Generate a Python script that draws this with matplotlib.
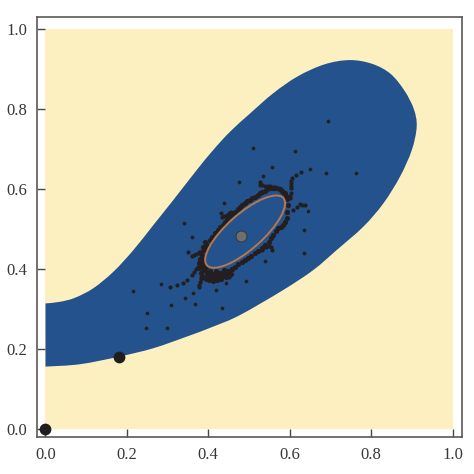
import matplotlib
matplotlib.use('Agg')
import numpy as np
import matplotlib.pyplot as plt
from matplotlib.patches import Ellipse, PathPatch, Rectangle
from matplotlib.path import Path

plt.rcParams['font.family'] = ['Liberation Serif', 'DejaVu Serif']

# outline of the blue region, lower edge first
edge_x = [0.0, 0.085, 0.181, 0.265, 0.347, 0.412, 0.478, 0.584, 0.658, 0.7155, 0.781, 0.830,
          0.871, 0.900, 0.912, 0.905, 0.882, 0.848, 0.803, 0.748, 0.686, 0.620, 0.560,
          0.5025, 0.453, 0.412, 0.3715, 0.314, 0.265, 0.216, 0.1665, 0.1175, 0.072, 0.035, 0.0]
edge_y = [0.156, 0.162, 0.181, 0.202, 0.231, 0.256, 0.285, 0.3475, 0.3975, 0.4475, 0.506, 0.564,
          0.631, 0.6975, 0.756, 0.8, 0.846, 0.888, 0.913, 0.9225, 0.912, 0.882, 0.84,
          0.789, 0.743, 0.6975, 0.6475, 0.5725, 0.51, 0.4475, 0.393, 0.352, 0.328, 0.318, 0.314]

# small points: band around the ellipse
band_x = [0.384, 0.392, 0.404, 0.416, 0.429, 0.441, 0.453, 0.466, 0.478, 0.490, 0.502, 0.515,
          0.527, 0.539, 0.552, 0.564, 0.576, 0.588, 0.594, 0.597, 0.594, 0.593, 0.584, 0.572,
          0.560, 0.548, 0.531, 0.515, 0.498, 0.482, 0.466, 0.449, 0.433, 0.416, 0.400, 0.388,
          0.395, 0.405, 0.42, 0.438, 0.39, 0.385, 0.40, 0.392, 0.398, 0.41, 0.423, 0.435, 0.447,
          0.459, 0.472, 0.484, 0.496, 0.508, 0.521, 0.533, 0.545, 0.558, 0.570, 0.582, 0.591,
          0.588, 0.578, 0.566, 0.554, 0.540, 0.523, 0.506, 0.490, 0.474, 0.458, 0.441, 0.425,
          0.379, 0.383, 0.389, 0.396, 0.405, 0.414, 0.425, 0.436, 0.448, 0.380, 0.386, 0.393,
          0.378, 0.412, 0.426, 0.442, 0.458, 0.376, 0.381, 0.387, 0.394, 0.402, 0.411, 0.421,
          0.432, 0.444, 0.456, 0.384, 0.391]
band_y = [0.423, 0.448, 0.473, 0.489, 0.504, 0.518, 0.533, 0.543, 0.556, 0.564, 0.573, 0.581,
          0.589, 0.596, 0.602, 0.603, 0.600, 0.589, 0.574, 0.560, 0.543, 0.527, 0.510, 0.502,
          0.485, 0.468, 0.452, 0.439, 0.427, 0.418, 0.406, 0.396, 0.389, 0.388, 0.391, 0.402,
          0.405, 0.395, 0.395, 0.398, 0.415, 0.41, 0.43, 0.40, 0.46, 0.481, 0.497, 0.511, 0.526,
          0.538, 0.55, 0.56, 0.569, 0.577, 0.585, 0.592, 0.599, 0.603, 0.602, 0.595, 0.582,
          0.518, 0.506, 0.494, 0.477, 0.46, 0.445, 0.433, 0.422, 0.412, 0.401, 0.392, 0.388,
          0.425, 0.41, 0.397, 0.388, 0.381, 0.38, 0.381, 0.383, 0.387, 0.44, 0.455, 0.468,
          0.415, 0.388, 0.39, 0.393, 0.4, 0.402, 0.39, 0.381, 0.375, 0.372, 0.371, 0.373,
          0.376, 0.38, 0.388, 0.435, 0.45]

# small points: the curled tails
tail_x = [0.527, 0.527, 0.533, 0.539, 0.546, 0.552, 0.558, 0.564, 0.575, 0.584, 0.593,
          0.627, 0.615, 0.606, 0.603, 0.602, 0.602, 0.601, 0.6025, 0.6025, 0.6015,
          0.638, 0.631, 0.625, 0.617, 0.609,
          0.556, 0.553, 0.548, 0.543, 0.531, 0.523,
          0.306, 0.324, 0.337, 0.348, 0.359, 0.369, 0.378, 0.384, 0.364, 0.374,
          0.351, 0.359, 0.365, 0.371, 0.378, 0.384, 0.392,
          0.376, 0.380, 0.381, 0.384, 0.378, 0.381,
          0.430, 0.433, 0.439, 0.445, 0.451, 0.457,
          0.453, 0.452, 0.441]
tail_y = [0.618, 0.610, 0.609, 0.608, 0.608, 0.608, 0.606, 0.604, 0.598, 0.589, 0.577,
          0.643, 0.635, 0.627, 0.614, 0.602, 0.589, 0.577, 0.620, 0.608, 0.583,
          0.560, 0.561, 0.562, 0.556, 0.548,
          0.448, 0.456, 0.457, 0.456, 0.448, 0.444,
          0.356, 0.360, 0.366, 0.373, 0.385, 0.399, 0.414, 0.427, 0.392, 0.406,
          0.443, 0.433, 0.435, 0.438, 0.442, 0.446, 0.456,
          0.354, 0.368, 0.381, 0.393, 0.361, 0.375,
          0.539, 0.529, 0.532, 0.535, 0.539, 0.543,
          0.389, 0.379, 0.388]

# small points: scattered ones
loose_x = [0.509, 0.613, 0.557, 0.535, 0.476, 0.689, 0.439, 0.646, 0.341, 0.359, 0.634, 0.634,
           0.539, 0.493, 0.443, 0.418, 0.363, 0.343, 0.367, 0.434, 0.308, 0.694, 0.763, 0.216,
           0.249, 0.248, 0.299, 0.285, 0.650]
loose_y = [0.702, 0.696, 0.656, 0.633, 0.618, 0.639, 0.564, 0.545, 0.514, 0.481, 0.498, 0.439,
           0.421, 0.371, 0.366, 0.348, 0.341, 0.328, 0.312, 0.302, 0.310, 0.770, 0.640, 0.345,
           0.289, 0.252, 0.252, 0.363, 0.650]

# big points
big_x = [0.0, 0.18]
big_y = [0.0, 0.18]
centre_x = 0.48
centre_y = 0.4825

ticks = [0.0, 0.2, 0.4, 0.6, 0.8, 1.0]


def smooth_outline(xs, ys):
    # catmull-rom through the read points, as bezier pieces
    pts = np.column_stack([xs, ys])
    verts = [pts[0]]
    codes = [Path.MOVETO]
    for i in range(len(pts) - 1):
        p0 = pts[max(i - 1, 0)]
        p1 = pts[i]
        p2 = pts[i + 1]
        p3 = pts[min(i + 2, len(pts) - 1)]
        verts += [p1 + (p2 - p0) / 6, p2 - (p3 - p1) / 6, p2]
        codes += [Path.CURVE4, Path.CURVE4, Path.CURVE4]
    verts.append(pts[0])
    codes.append(Path.CLOSEPOLY)
    return Path(verts, codes)


fig = plt.figure(figsize=(4.74, 4.74), dpi=100)
ax = fig.add_axes([36.7 / 474, 1 - 437 / 474, (461.7 - 36.7) / 474, (437 - 17.5) / 474])

ax.add_patch(Rectangle((0, 0), 1, 1, facecolor='#fdf0c0', edgecolor='none', zorder=1))
ax.add_patch(PathPatch(smooth_outline(edge_x, edge_y), facecolor='#24528c', edgecolor='none', zorder=2))

ax.scatter(band_x, band_y, s=14, color='#231f20', linewidths=0, zorder=3)
ax.scatter(tail_x, tail_y, s=9, color='#231f20', linewidths=0, zorder=3)
ax.scatter(loose_x, loose_y, s=7, color='#231f20', linewidths=0, zorder=3)

ax.add_patch(Ellipse((0.4905, 0.4935), 0.252, 0.088, angle=42, facecolor='#24528c',
                     edgecolor='#b5784f', linewidth=1.4, zorder=4))

ax.scatter(big_x, big_y, s=72, color='#1f1d1e', linewidths=0, zorder=5, clip_on=False)
ax.scatter([centre_x], [centre_y], s=62, facecolor='#6f6f6f', edgecolor='#333333', linewidths=0.6, zorder=5)

ax.set_xlim(-0.0216, 1.0226)
ax.set_ylim(-0.02, 1.029)
ax.set_xticks(ticks)
ax.set_yticks(ticks)
ax.set_xticklabels(['%.1f' % t for t in ticks])
ax.set_yticklabels(['%.1f' % t for t in ticks])
ax.tick_params(direction='in', length=5.5, width=1.0, color='#4a4646', labelcolor='#3a3637',
               labelsize=12, pad=7, top=False, right=False)
for spine in ax.spines.values():
    spine.set_color('#5b5757')
    spine.set_linewidth(1.2)

fig.savefig('out.png', dpi=100)
